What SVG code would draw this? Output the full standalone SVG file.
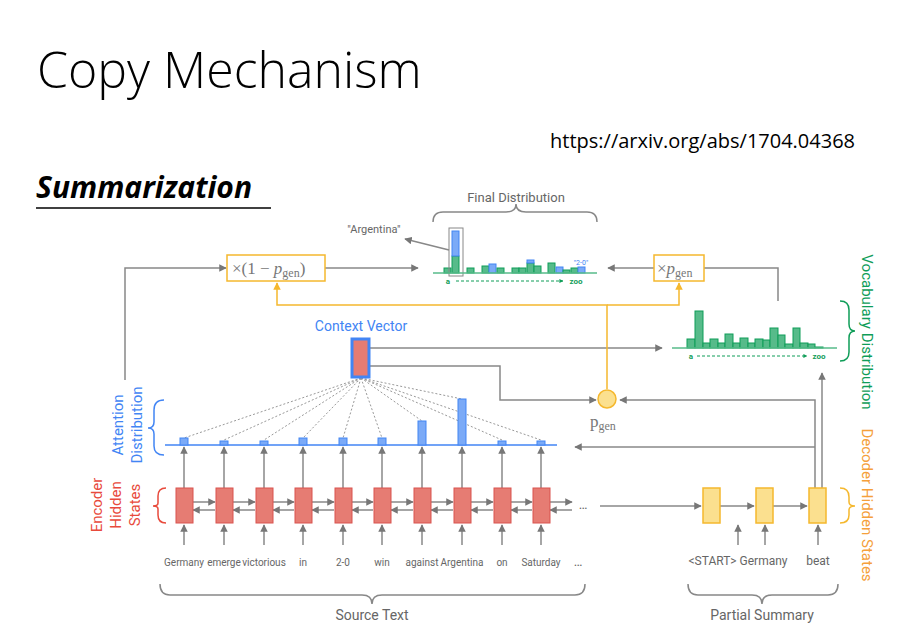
<svg xmlns="http://www.w3.org/2000/svg" width="904" height="644" viewBox="0 0 904 644">
<defs>
<style>
.t{font-family:"Roboto","Liberation Sans",sans-serif;fill:#666;font-size:11px;text-anchor:middle}
.ln{stroke:#888;stroke-width:1.5;fill:none}
.yl{stroke:#f5b82e;stroke-width:1.5;fill:none}
.enc{fill:#e67c73;stroke:#d9534f;stroke-width:1}
.dec{fill:#fbe08f;stroke:#f5b82e;stroke-width:1.5}
.ab{fill:#7baaf7;stroke:#4285f4;stroke-width:1}
.gb{fill:#57bb8a;stroke:#0f9d58;stroke-width:1}
.br{fill:none;stroke-width:1.5}
.math{font-family:"Liberation Serif",serif;fill:#777;font-size:17px}
</style>
<marker id="a" viewBox="0 0 10 10" refX="9" refY="5" markerWidth="5" markerHeight="5" orient="auto"><path d="M0,0L10,5L0,10z" fill="#777"/></marker>
<marker id="ay" viewBox="0 0 10 10" refX="9" refY="5" markerWidth="5" markerHeight="5" orient="auto"><path d="M0,0L10,5L0,10z" fill="#f5b82e"/></marker>
<marker id="ag" viewBox="0 0 10 10" refX="9" refY="5" markerWidth="4" markerHeight="4" orient="auto"><path d="M0,0L10,5L0,10z" fill="#0f9d58"/></marker>
</defs>
<rect width="904" height="644" fill="#fff"/>
<g id="titles">
<text x="37" y="88" font-family="Open Sans,Liberation Sans,sans-serif" font-weight="300" font-size="50" fill="#000">Copy Mechanism</text>
<text x="550" y="148" font-family="Open Sans,Liberation Sans,sans-serif" font-size="20" fill="#000">https://arxiv.org/abs/1704.04368</text>
<text x="36" y="198" font-family="Open Sans,Liberation Sans,sans-serif" font-size="30" font-weight="bold" font-style="italic" fill="#000">Summarization</text>
<line x1="36" y1="208" x2="271" y2="208" stroke="#000" stroke-width="1.5"/>
</g>
<g id="connectors">
<!-- encoder to attention -->
<g class="ln" marker-end="url(#a)">
<path d="M184,488V447"/><path d="M224,488V447"/><path d="M264,488V447"/><path d="M303,488V447"/><path d="M343,488V447"/><path d="M382,488V447"/><path d="M422,488V447"/><path d="M462,488V447"/><path d="M502,488V447"/><path d="M541,488V447"/>
<path d="M184,545V525"/><path d="M224,545V525"/><path d="M264,545V525"/><path d="M303,545V525"/><path d="M343,545V525"/><path d="M382,545V525"/><path d="M422,545V525"/><path d="M462,545V525"/><path d="M502,545V525"/><path d="M541,545V525"/>
<path d="M193,502H215"/><path d="M233,502H255"/><path d="M273,502H294"/><path d="M312,502H334"/><path d="M352,502H373"/><path d="M391,502H413"/><path d="M431,502H453"/><path d="M471,502H493"/><path d="M511,502H532"/><path d="M550,502H572"/>
<path d="M215,510H193"/><path d="M255,510H233"/><path d="M294,510H273"/><path d="M334,510H312"/><path d="M373,510H352"/><path d="M413,510H391"/><path d="M453,510H431"/><path d="M493,510H471"/><path d="M532,510H511"/><path d="M572,510H550"/>
<path d="M600,506H701"/><path d="M720,506H754"/><path d="M773,506H807"/>
<path d="M738,545V525"/><path d="M765,545V525"/><path d="M818,545V525"/>
<path d="M822,488V373"/>
<path d="M815,488V400H620"/>
<path d="M815,447H575"/>
<path d="M370,348H662"/>
<path d="M370,366H500V400H596"/>
<path d="M125,380V268H226"/>
<path d="M325,268H418"/>
<path d="M654,268H608"/>
<path d="M778,301V268H704" marker-end="none"/>
<path d="M449,250L405,239"/>
</g>
<g stroke="#999" stroke-width="1" stroke-dasharray="2,2" fill="none">
<path d="M361,378L184,438"/><path d="M361,378L224,440"/><path d="M361,378L264,440"/><path d="M361,378L303,438"/><path d="M361,378L343,438"/><path d="M361,378L382,438"/><path d="M361,378L422,421"/><path d="M361,378L462,399"/><path d="M361,378L502,440"/><path d="M361,378L541,440"/>
</g>
<g class="yl">
<path d="M607,389V305H277V283" marker-end="url(#ay)"/>
<path d="M607,305H679V283" marker-end="url(#ay)"/>
</g>
</g>
<g id="attention">
<line x1="165" y1="445" x2="557" y2="445" stroke="#4285f4" stroke-width="1.5"/>
<rect class="ab" x="180" y="438" width="8" height="7"/><rect class="ab" x="220" y="441" width="8" height="4"/><rect class="ab" x="260" y="441" width="8" height="4"/><rect class="ab" x="299" y="438" width="8" height="7"/><rect class="ab" x="339" y="438" width="8" height="7"/><rect class="ab" x="378" y="438" width="8" height="7"/><rect class="ab" x="418" y="421" width="8" height="24"/><rect class="ab" x="458" y="399" width="8" height="46"/><rect class="ab" x="498" y="441" width="8" height="4"/><rect class="ab" x="537" y="441" width="8" height="4"/>
<text x="123" y="425" class="t" fill="#4285f4" style="fill:#4285f4;font-size:15px" transform="rotate(-90 123 425)">Attention</text>
<text x="142" y="425" class="t" style="fill:#4285f4;font-size:15px" transform="rotate(-90 142 425)">Distribution</text>
<path class="br" stroke="#4285f4" d="M164,400Q154,400 154,410V422Q154,428 148,428Q154,428 154,434V446Q154,455 164,455"/>
</g>
<g id="encoder">
<rect class="enc" x="176" y="488" width="17" height="35"/><rect class="enc" x="216" y="488" width="17" height="35"/><rect class="enc" x="256" y="488" width="17" height="35"/><rect class="enc" x="295" y="488" width="17" height="35"/><rect class="enc" x="335" y="488" width="17" height="35"/><rect class="enc" x="374" y="488" width="17" height="35"/><rect class="enc" x="414" y="488" width="17" height="35"/><rect class="enc" x="454" y="488" width="17" height="35"/><rect class="enc" x="494" y="488" width="17" height="35"/><rect class="enc" x="533" y="488" width="17" height="35"/>
<text x="583" y="509" class="t" style="font-size:13px">…</text>
<text x="102" y="505" class="t" style="fill:#e84a3c;font-size:15px" transform="rotate(-90 102 505)">Encoder</text>
<text x="121" y="505" class="t" style="fill:#e84a3c;font-size:15px" transform="rotate(-90 121 505)">Hidden</text>
<text x="140" y="505" class="t" style="fill:#e84a3c;font-size:15px" transform="rotate(-90 140 505)">States</text>
<path class="br" stroke="#e84a3c" d="M166,488Q158,488 158,496V503Q158,506 153,506Q158,506 158,509V515Q158,523 166,523"/>
</g>
<g id="words" class="t" style="font-size:10px">
<text x="184" y="566">Germany</text><text x="224" y="566">emerge</text><text x="264" y="566">victorious</text><text x="303" y="566">in</text><text x="343" y="566">2-0</text><text x="382" y="566">win</text><text x="422" y="566">against</text><text x="462" y="566">Argentina</text><text x="502" y="566">on</text><text x="541" y="566">Saturday</text><text x="578" y="566" style="font-size:13px">…</text>
<text x="738" y="565" style="font-size:12px">&lt;START&gt; Germany</text><text x="818" y="565" style="font-size:12px">beat</text>
</g>
<g id="source-text">
<path class="br" stroke="#888" d="M160,584Q160,595 170,595H362Q372,595 372,604Q372,595 382,595H575Q585,595 585,584"/>
<text x="372" y="620" class="t" style="font-size:14px">Source Text</text>
</g>
<g id="partial-summary">
<path class="br" stroke="#888" d="M688,584Q688,595 698,595H752Q762,595 762,604Q762,595 772,595H828Q838,595 838,584"/>
<text x="762" y="620" class="t" style="font-size:14px">Partial Summary</text>
</g>
<g id="decoder">
<rect class="dec" x="703" y="488" width="17" height="35"/><rect class="dec" x="756" y="488" width="17" height="35"/><rect class="dec" x="809" y="488" width="17" height="35"/>
<path class="br" stroke="#f5b82e" d="M840,488Q849,488 849,497V502Q849,506 855,506Q849,506 849,510V515Q849,523 840,523"/>
<text x="862" y="505" class="t" style="fill:#f5a03a;font-size:15px" transform="rotate(90 862 505)">Decoder Hidden States</text>
</g>
<g id="context-vector">
<text x="361" y="331" class="t" style="fill:#4285f4;font-size:14px">Context Vector</text>
<rect x="352" y="339" width="17" height="38" fill="#e67c73" stroke="#4285f4" stroke-width="3"/>
</g>
<g id="pgen">
<circle cx="607" cy="399" r="9" fill="#fbe08f" stroke="#f5b82e" stroke-width="1.5"/>
<text x="590" y="427" class="math">p<tspan font-size="12" dy="3">gen</tspan></text>
</g>
<g id="mult1">
<rect x="227" y="255" width="98" height="26" fill="#fff" stroke="#f5b82e" stroke-width="1.5"/>
<text x="232" y="274" class="math">×(1 − <tspan font-style="italic">p</tspan><tspan font-size="12" dy="3">gen</tspan><tspan dy="-3">)</tspan></text>
</g>
<g id="mult2">
<rect x="654" y="255" width="50" height="26" fill="#fff" stroke="#f5b82e" stroke-width="1.5"/>
<text x="657" y="274" class="math">×<tspan font-style="italic">p</tspan><tspan font-size="12" dy="3">gen</tspan></text>
</g>
<g id="final-distribution">
<text x="516" y="202" class="t" style="font-size:13px">Final Distribution</text>
<path class="br" stroke="#888" d="M433,222Q433,212 443,212H506Q516,212 516,204Q516,212 526,212H587Q597,212 597,222"/>
<text x="374" y="233" class="t" style="font-size:11px">"Argentina"</text>
<g>
<rect class="gb" x="444" y="268" width="7" height="5"/>
<rect class="gb" x="452" y="256" width="7" height="17"/><rect class="ab" x="452" y="231" width="7" height="25"/>
<rect class="gb" x="467" y="268" width="7" height="5"/><rect class="gb" x="482" y="266" width="7" height="7"/><rect class="ab" x="489" y="264" width="7" height="9"/><rect class="gb" x="497" y="268" width="7" height="5"/><rect class="gb" x="512" y="268" width="7" height="5"/><rect class="gb" x="519" y="268" width="7" height="5"/><rect class="gb" x="527" y="263" width="7" height="10"/><rect class="ab" x="527" y="260" width="7" height="3"/><rect class="gb" x="534" y="266" width="7" height="7"/><rect class="gb" x="548" y="263" width="7" height="10"/><rect class="ab" x="556" y="267" width="7" height="6"/><rect class="gb" x="563" y="270" width="7" height="3"/><rect class="gb" x="571" y="268" width="7" height="5"/><rect class="ab" x="578" y="267" width="7" height="6"/>
</g>
<rect x="449" y="228" width="14" height="48" fill="none" stroke="#888" stroke-width="1"/>
<line x1="433" y1="273" x2="597" y2="273" stroke="#57bb8a" stroke-width="1.5"/>
<text x="581" y="265" style="font-family:Roboto,sans-serif;font-size:7px;fill:#4285f4" text-anchor="middle">"2-0"</text>
<text x="448" y="284" style="font-family:Roboto,sans-serif;font-size:8px;fill:#0f9d58;font-weight:bold" text-anchor="middle">a</text>
<line x1="456" y1="281" x2="563" y2="281" stroke="#0f9d58" stroke-dasharray="3,2" marker-start="url(#ag)" marker-end="url(#ag)" style="marker-start:none"/>
<text x="576" y="284" style="font-family:Roboto,sans-serif;font-size:8px;fill:#0f9d58;font-weight:bold" text-anchor="middle">zoo</text>
</g>
<g id="vocab-distribution">
<rect class="gb" x="687" y="339" width="8" height="9"/><rect class="gb" x="695" y="311" width="8" height="37"/><rect class="gb" x="703" y="343" width="7" height="5"/><rect class="gb" x="710" y="339" width="8" height="9"/><rect class="gb" x="718" y="343" width="7" height="5"/><rect class="gb" x="725" y="334" width="8" height="14"/><rect class="gb" x="733" y="343" width="7" height="5"/><rect class="gb" x="740" y="338" width="8" height="10"/><rect class="gb" x="748" y="343" width="7" height="5"/><rect class="gb" x="755" y="339" width="8" height="9"/><rect class="gb" x="763" y="340" width="7" height="8"/><rect class="gb" x="770" y="328" width="8" height="20"/><rect class="gb" x="778" y="335" width="7" height="13"/><rect class="gb" x="785" y="344" width="8" height="4"/><rect class="gb" x="793" y="328" width="7" height="20"/><rect class="gb" x="800" y="343" width="8" height="5"/><rect class="gb" x="808" y="344" width="7" height="4"/><rect class="gb" x="815" y="347" width="8" height="1"/>
<line x1="672" y1="348" x2="837" y2="348" stroke="#57bb8a" stroke-width="1.5"/>
<text x="691" y="359" style="font-family:Roboto,sans-serif;font-size:8px;fill:#0f9d58;font-weight:bold" text-anchor="middle">a</text>
<line x1="697" y1="356" x2="807" y2="356" stroke="#0f9d58" stroke-dasharray="3,2" marker-end="url(#ag)"/>
<text x="819" y="359" style="font-family:Roboto,sans-serif;font-size:8px;fill:#0f9d58;font-weight:bold" text-anchor="middle">zoo</text>
<path class="br" stroke="#0f9d58" d="M840,301Q849,301 849,310V324Q849,331 855,331Q849,331 849,338V352Q849,361 840,361"/>
<text x="862" y="332" class="t" style="fill:#0f9d58;font-size:15px" transform="rotate(90 862 332)">Vocabulary Distribution</text>
</g>
</svg>
